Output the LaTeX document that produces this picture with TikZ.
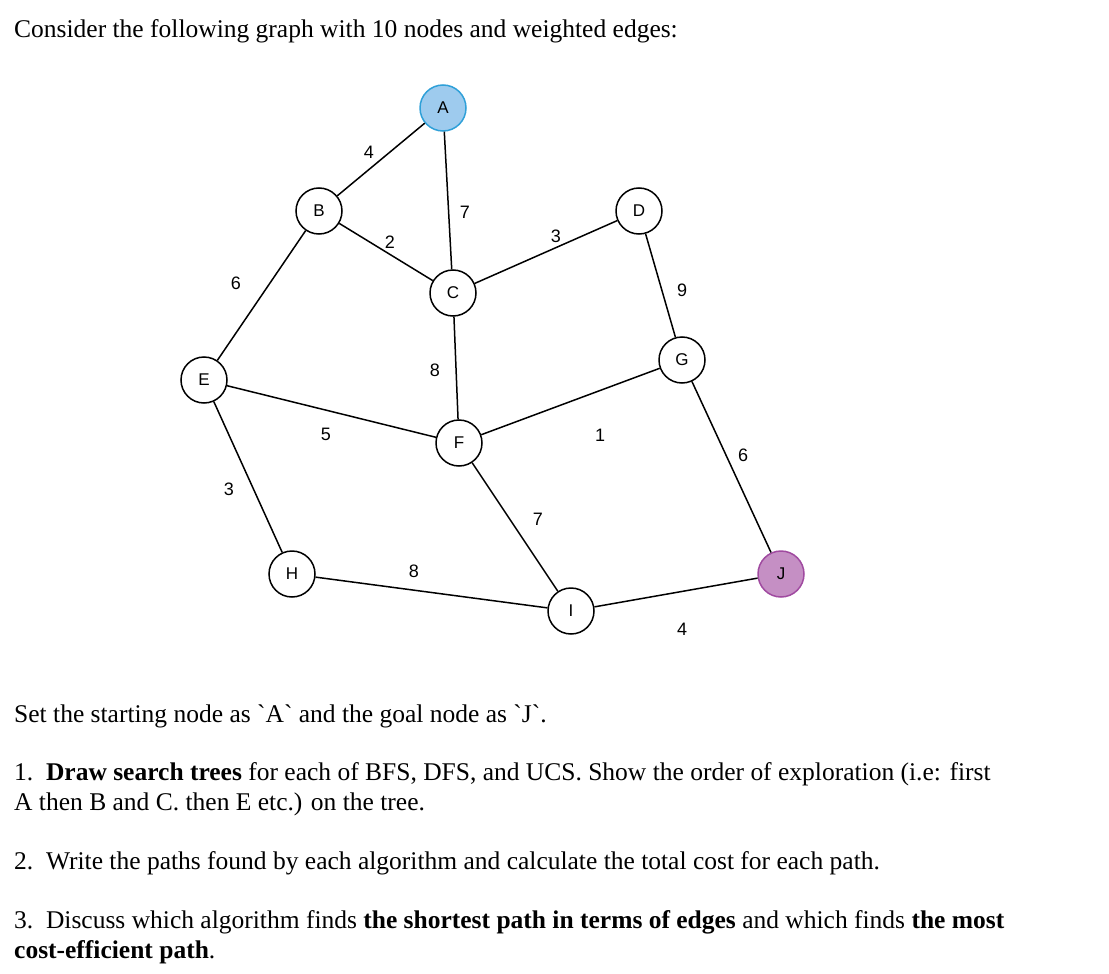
\documentclass[tikz,border=0pt]{standalone}
\usepackage{fontspec}
\setmainfont{Liberation Serif}[Ligatures=TeXOff]
\newfontfamily\lsans{Liberation Sans}
\newcommand{\bq}{\symbol{96}}
\begin{document}
\begin{tikzpicture}[x=1pt,y=-1pt,
 nd/.style={circle,draw=black,line width=1.5pt,fill=white,minimum size=46pt,inner sep=0pt,font=\lsans\fontsize{17}{17}\selectfont},
 ed/.style={line width=1.5pt},
 wl/.style={font=\lsans\fontsize{18}{18}\selectfont},
 tx/.style={anchor=base west,inner sep=0pt,font=\fontsize{25.5}{30}\selectfont}]
\useasboundingbox (0,0) rectangle (1109,974);
\node[tx] (t0) at (14,38) {Consider the following graph with 10 nodes and weighted edges:};
\node[nd,fill={rgb,255:red,158;green,203;blue,238},draw={rgb,255:red,47;green,160;blue,216}] (A) at (443,108) {A};
\node[nd] (B) at (319,211) {B};
\node[nd] (C) at (453,293) {C};
\node[nd] (D) at (639,211) {D};
\node[nd] (E) at (204,380) {E};
\node[nd] (G) at (682,360) {G};
\node[nd] (F) at (459,443) {F};
\node[nd] (H) at (292,574) {H};
\node[nd] (I) at (571,611) {I};
\node[nd,fill={rgb,255:red,197;green,143;blue,196},draw={rgb,255:red,160;green,74;blue,160}] (J) at (781,574) {J};
\draw[ed] (A) -- (B); \draw[ed] (A) -- (C); \draw[ed] (B) -- (C);
\draw[ed] (C) -- (D); \draw[ed] (B) -- (E); \draw[ed] (D) -- (G);
\draw[ed] (C) -- (F); \draw[ed] (E) -- (F); \draw[ed] (F) -- (G);
\draw[ed] (G) -- (J); \draw[ed] (E) -- (H); \draw[ed] (F) -- (I);
\draw[ed] (H) -- (I); \draw[ed] (I) -- (J);
\node[wl] (w1) at (369,152) {4};
\node[wl] (w2) at (465,212) {7};
\node[wl] (w3) at (390,242) {2};
\node[wl] (w4) at (556,236) {3};
\node[wl] (w5) at (236,283) {6};
\node[wl] (w6) at (682,290) {9};
\node[wl] (w7) at (435,370) {8};
\node[wl] (w8) at (326,434) {5};
\node[wl] (w9) at (600,435) {1};
\node[wl] (w10) at (743,455) {6};
\node[wl] (w11) at (229,489) {3};
\node[wl] (w12) at (538,519) {7};
\node[wl] (w13) at (414,571) {8};
\node[wl] (w14) at (682,629) {4};
\node[tx] (t1) at (14,722) {Set the starting node as \bq A\bq{} and the goal node as \bq J\bq.};
\node[tx] (t2) at (14,780) {1.\ \ \textbf{Draw search trees} for each of BFS, DFS, and UCS. Show the order of exploration (i.e: first};
\node[tx] (t3) at (14,810) {A then B and C. then E etc.) on the tree.};
\node[tx] (t4) at (14,869) {2.\ \ Write the paths found by each algorithm and calculate the total cost for each path.};
\node[tx] (t5) at (14,928) {3.\ \ Discuss which algorithm finds \textbf{the shortest path in terms of edges} and which finds \textbf{the most}};
\node[tx] (t6) at (14,958) {\textbf{cost-efficient path}.};
\end{tikzpicture}
\end{document}
